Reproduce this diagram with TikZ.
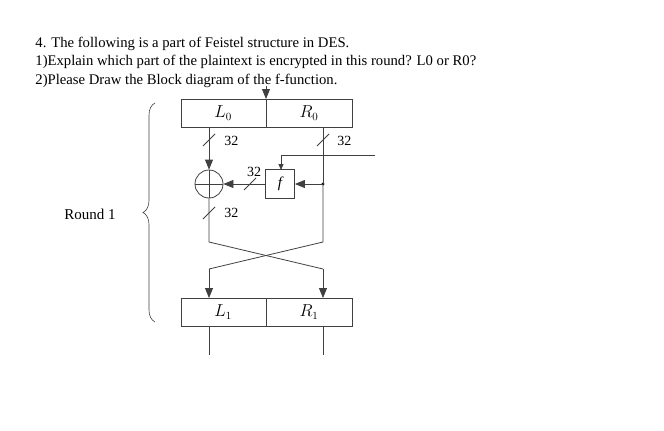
\documentclass[tikz,border=0pt]{standalone}
\usepackage{fontspec}
\setmainfont{Liberation Serif}
\usetikzlibrary{arrows.meta,decorations.pathreplacing}
\begin{document}
\begin{tikzpicture}[x=1pt,y=-1pt,line width=0.8pt,draw=black!75,
  arr/.style={-{Triangle[length=10pt,width=8pt]}},
  txt/.style={anchor=base west,inner sep=0,font=\fontsize{14.7}{17}\selectfont},
  lbl/.style={inner sep=0,font=\fontsize{14}{16}\selectfont},
  sl/.style={draw=black!75}]
\useasboundingbox (0,0) rectangle (664,431);
\node[txt] (t1) at (35,47) {4. The following is a part of Feistel structure in DES.};
\node[txt] (t2) at (35,65) {1)Explain which part of the plaintext is encrypted in this round? L0 or R0?};
\node[txt] (t3) at (35,84) {2)Please Draw the Block diagram of the f-function.};
% top box
\draw (181,99) rectangle (352,127);
\draw (266,99) -- (266,127);
\node[lbl,font=\fontsize{16}{18}\selectfont] (L0) at (223,113) {$L_0$};
\node[lbl,font=\fontsize{16}{18}\selectfont] (R0) at (309,113) {$R_0$};
\coordinate (in) at (266,86);
\coordinate (intop) at (266,99);
\draw[arr] (in) -- (intop);
% XOR and f
\node[circle,draw,minimum size=28pt,inner sep=0] (x) at (209,184) {};
\draw (x.north) -- (x.south) (x.west) -- (x.east);
\node[draw,minimum width=29pt,minimum height=29pt,inner sep=0,font=\itshape\fontsize{15}{17}\selectfont] (f) at (280,184) {f};
\coordinate (L0b) at (209,127);
\coordinate (R0b) at (323,127);
\coordinate (dot) at (323,184);
\fill (dot) circle (1.7pt);
\draw[arr] (L0b) -- (x.north);
\draw (R0b) -- (dot);
\draw[arr] (dot) -- (f.east);
\draw[arr] (f.west) -- (x.east);
\coordinate (k) at (375,155);
\draw[-{Triangle[length=6pt,width=5pt]}] (k) -- (281,155) -- (281,170);
% slashes & 32
\draw (203,146) -- (215,134); \node[lbl,anchor=west] (n1) at (224,141) {32};
\draw (317,146) -- (329,134); \node[lbl,anchor=west] (n2) at (337,141) {32};
\draw (244,190) -- (256,178); \node[lbl] (n3) at (254,172) {32};
\draw (203,219) -- (215,207); \node[lbl,anchor=west] (n4) at (224,213) {32};
% cross
\coordinate (a1) at (209,242); \coordinate (a2) at (323,242);
\coordinate (b1) at (209,269); \coordinate (b2) at (323,269);
\draw (x.south) -- (a1) -- (b2);
\draw (dot) -- (a2) -- (b1);
\draw[arr] (b1) -- (209,298);
\draw[arr] (b2) -- (323,298);
% bottom box
\draw (181,298) rectangle (352,326);
\draw (266,298) -- (266,326);
\node[lbl,font=\fontsize{16}{18}\selectfont] (L1) at (223,312) {$L_1$};
\node[lbl,font=\fontsize{16}{18}\selectfont] (R1) at (309,312) {$R_1$};
\draw (209,326) -- (209,355);
\draw (323,326) -- (323,355);
% brace
\draw[decorate,decoration={brace,amplitude=12pt},line width=0.6pt] (155,322) -- (155,103);
\node[lbl,anchor=east,font=\fontsize{15}{17}\selectfont] (r1) at (116,214) {Round 1};
\end{tikzpicture}
\end{document}
